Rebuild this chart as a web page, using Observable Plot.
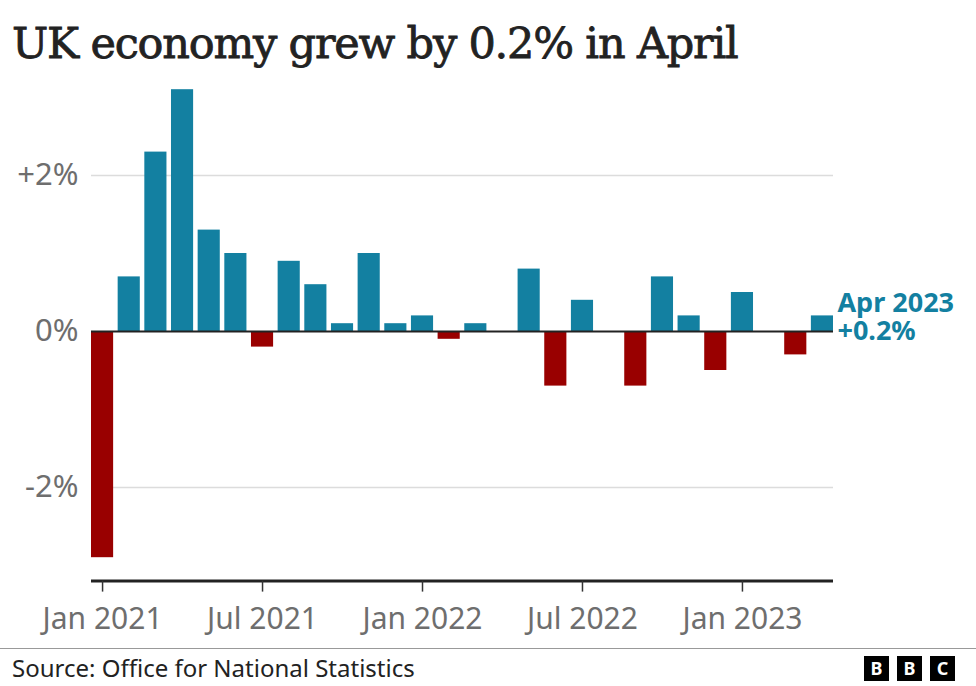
<!DOCTYPE html>
<html>
<head>
<meta charset="utf-8">
<script src="https://cdn.jsdelivr.net/npm/d3@7"></script>
<script src="https://cdn.jsdelivr.net/npm/@observablehq/plot@0.6"></script>
<style>
  body { margin: 0; background: #fff; width: 976px; height: 686px; overflow: hidden; font-family: "Noto Sans", sans-serif; }
  #title { height: 70px; box-sizing: border-box; padding: 19px 0 0 12px; font-family: "DejaVu Serif", serif; font-weight: normal; -webkit-text-stroke: 0.8px #222; font-size: 43px; line-height: 48px; color: #222; white-space: nowrap; letter-spacing: -1.2px; }
  #chart { height: 574px; }
  #footer { border-top: 1.5px solid #999; margin-top: 4px; height: 40px; position: relative; }
  #source { position: absolute; left: 12px; top: 2px; font-size: 24px; color: #222; }
  #logo { position: absolute; right: 21px; top: 7px; display: flex; gap: 8px; }
  #logo span { width: 25px; height: 25px; background: #000; color: #fff; font-weight: bold; font-size: 18px; line-height: 25px; text-align: center; font-family: "Noto Sans", sans-serif; }
</style>
</head>
<body>
<div id="title">UK economy grew by 0.2% in April</div>
<div id="chart"></div>
<div id="footer"><div id="source">Source: Office for National Statistics</div><div id="logo"><span>B</span><span>B</span><span>C</span></div></div>
<script>
const months = ["2021-01","2021-02","2021-03","2021-04","2021-05","2021-06","2021-07","2021-08","2021-09","2021-10","2021-11","2021-12",
                "2022-01","2022-02","2022-03","2022-04","2022-05","2022-06","2022-07","2022-08","2022-09","2022-10","2022-11","2022-12",
                "2023-01","2023-02","2023-03","2023-04"];
const growth = [-2.9, 0.7, 2.3, 3.1, 1.3, 1.0, -0.2, 0.9, 0.6, 0.1, 1.0, 0.1,
                0.2, -0.1, 0.1, 0.0, 0.8, -0.7, 0.4, 0.0, -0.7, 0.7, 0.2, -0.5,
                0.5, 0.0, -0.3, 0.2];
const tickMonths = ["2021-01","2021-07","2022-01","2022-07","2023-01"];
const tickLabels = ["Jan 2021","Jul 2021","Jan 2022","Jul 2022","Jan 2023"];
const yTicks = [-2, 0, 2];
const lastMonthLabel = "Apr 2023";
const lastValueLabel = "+0.2%";

const data = months.map((m, i) => ({month: m, value: growth[i]}));
const last = data[data.length - 1];

const chart = Plot.plot({
  width: 976,
  height: 574,
  marginTop: 11.4,
  marginBottom: 63.4,
  marginLeft: 91,
  marginRight: 143,
  style: {fontFamily: "Noto Sans, sans-serif", background: "#fff"},
  x: {type: "band", domain: months, paddingInner: 0.17, paddingOuter: 0.0, align: 0.5, round: false},
  y: {domain: [-3.2, 3.2]},
  marks: [
    Plot.ruleY([-2, 2], {stroke: "#dcdcdc", strokeWidth: 1.5}),
    Plot.barY(data, {x: "month", y: "value", fill: d => d.value < 0 ? "#990000" : "#1380A1"}),
    Plot.ruleY([0], {stroke: "#222", strokeWidth: 2}),
    Plot.ruleY([-3.2], {stroke: "#222", strokeWidth: 3}),
    Plot.axisY({ticks: yTicks, tickSize: 0, tickPadding: 13, tickFormat: d => d > 0 ? `+${d}%` : `${d}%`, fontSize: 31, fill: "#6e6e6e", label: null}),
    Plot.axisX({ticks: tickMonths, tickSize: 11, tickPadding: 16, tickFormat: d => tickLabels[tickMonths.indexOf(d)], fontSize: 30, fill: "#6e6e6e", stroke: "#333", strokeWidth: 1.5, label: null}),
    Plot.text([last], {x: "month", y: "value", text: () => lastMonthLabel, textAnchor: "start", dx: 15, dy: -13, fontSize: 27, fontWeight: "bold", fill: "#1380A1"}),
    Plot.text([last], {x: "month", y: "value", text: () => lastValueLabel, textAnchor: "start", dx: 15, dy: 15, fontSize: 27, fontWeight: "bold", fill: "#1380A1"})
  ]
});
document.getElementById("chart").appendChild(chart);
</script>
</body>
</html>
